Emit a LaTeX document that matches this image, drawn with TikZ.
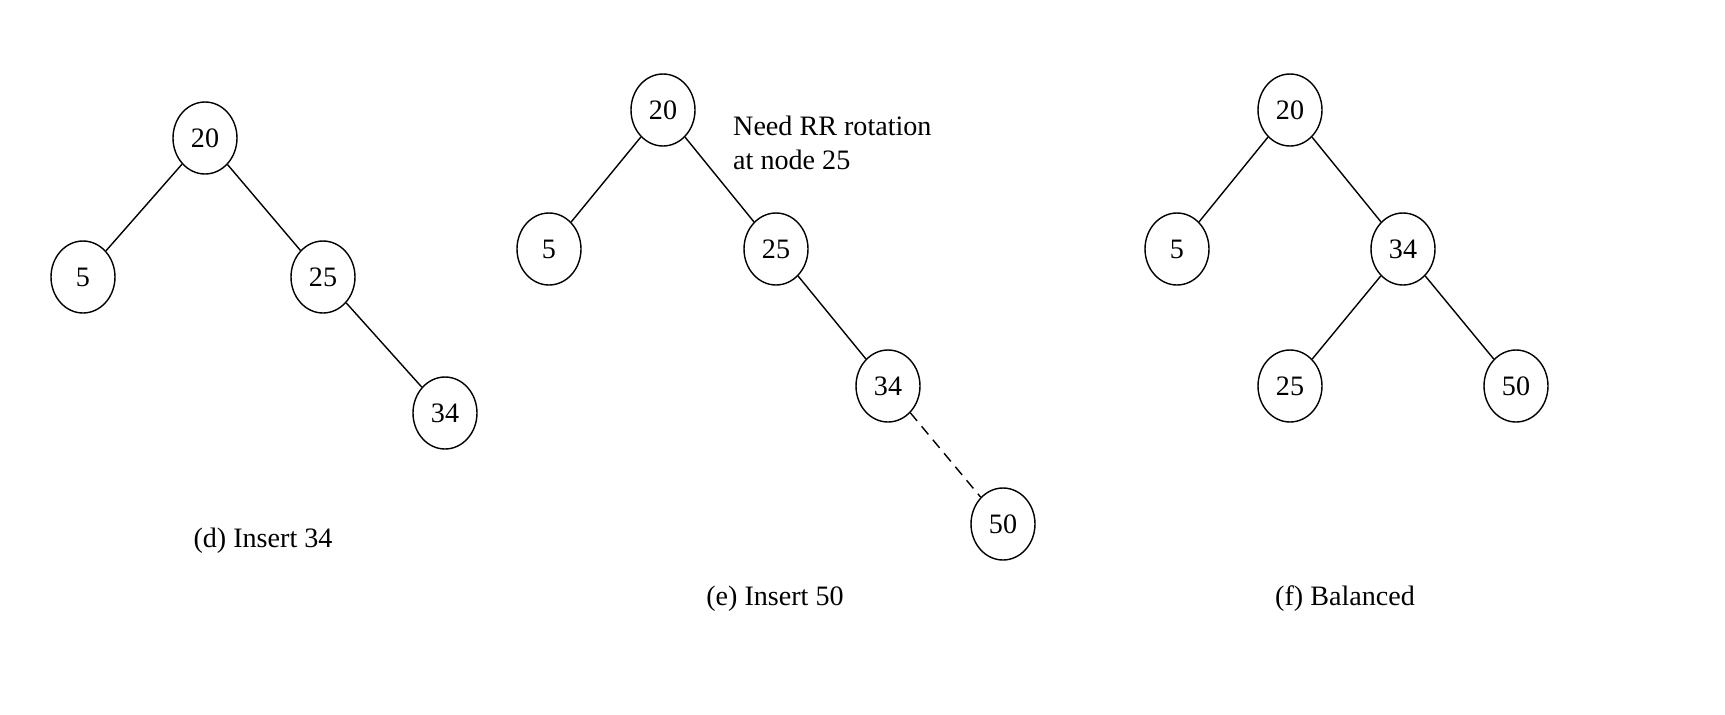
\documentclass[tikz,border=0pt]{standalone}
\usepackage{fontspec}
\setmainfont{Liberation Serif}
\usetikzlibrary{shapes.geometric}
\begin{document}
\begin{tikzpicture}[x=0.02cm,y=-0.02cm,
  nd/.style={draw,ellipse,line width=0.8pt,minimum width=1.28cm,minimum height=1.44cm,inner sep=0pt,font=\fontsize{16}{18}\selectfont},
  lbl/.style={font=\fontsize{16}{19.5}\selectfont},
  edge/.style={line width=0.8pt}]
\useasboundingbox (0,0) rectangle (1725,714);
% (d)
\node[nd] (d20) at (205,138) {20};
\node[nd] (d5) at (83,277) {5};
\node[nd] (d25) at (323,277) {25};
\node[nd] (d34) at (445,413) {34};
\draw[edge] (d20)--(d5) (d20)--(d25) (d25)--(d34);
\node[lbl] (dl) at (263,541) {(d) Insert 34};
% (e)
\node[nd] (e20) at (663,110) {20};
\node[nd] (e5) at (549,249) {5};
\node[nd] (e25) at (776,249) {25};
\node[nd] (e34) at (888,386) {34};
\node[nd] (e50) at (1003,524) {50};
\draw[edge] (e20)--(e5) (e20)--(e25) (e25)--(e34);
\draw[edge,dashed,dash pattern=on 6pt off 4pt] (e34)--(e50);
\node[lbl,anchor=north west,align=left] (en) at (727,110) {Need RR rotation\\at node 25};
\node[lbl] (el) at (775,599) {(e) Insert 50};
% (f)
\node[nd] (f20) at (1290,110) {20};
\node[nd] (f5) at (1177,249) {5};
\node[nd] (f34) at (1403,249) {34};
\node[nd] (f25) at (1290,386) {25};
\node[nd] (f50) at (1516,386) {50};
\draw[edge] (f20)--(f5) (f20)--(f34) (f34)--(f25) (f34)--(f50);
\node[lbl] (fl) at (1345,599) {(f) Balanced};
\end{tikzpicture}
\end{document}
